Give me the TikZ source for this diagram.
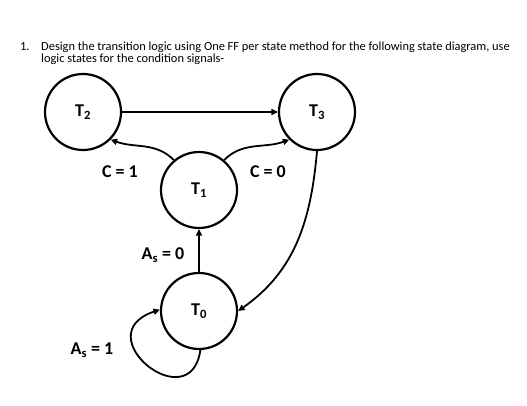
\documentclass[tikz,border=0pt]{standalone}
\usepackage{fontspec}
\setmainfont{Carlito}
\usepackage{xcolor}
\usetikzlibrary{arrows.meta}
\definecolor{ink}{HTML}{000000}
\definecolor{paper}{HTML}{FFFFFF}
\tikzset{
  state/.style={draw=ink, circle, line width=2.2pt, minimum size=76pt, inner sep=0pt, text=ink, font=\bfseries\fontsize{18}{18}\selectfont},
  edge/.style={draw=ink, line width=1.8pt, line cap=round, -{Triangle[length=6.5pt,width=6pt]}},
  lab/.style={text=ink, font=\bfseries\fontsize{18}{18}\selectfont},
  txt/.style={text=ink, anchor=base west, inner sep=0pt, font=\fontsize{12.4}{14}\selectfont},
}

\begin{document}
\begin{tikzpicture}[x=1pt,y=1pt]
  \useasboundingbox[fill=paper] (0,0) rectangle (527,-406);
  % question text
  \node[txt] (num) at (20,-51) {1.};
  \node[txt] (q1) at (41,-51) {Design the transition logic using One FF per state method for the following state diagram, use};
  \node[txt] (q2) at (41,-63) {logic states for the condition signals-};
  % states
  \node[state] (T2) at (83,-112) {T\textsubscript{2}};
  \node[state] (T3) at (317,-112) {T\textsubscript{3}};
  \node[state] (T1) at (199,-190) {T\textsubscript{1}};
  \node[state] (T0) at (199,-311) {T\textsubscript{0}};
  % transitions
  \draw[edge] (T2.east) -- (T3.west);
  \draw[edge] (T1.130) to[out=135,in=-20] (T2.-45);
  \draw[edge] (T1.50) to[out=45,in=200] (T3.225);
  \draw[edge] (T0) -- (T1);
  \draw[edge] (T3.-90) to[out=-95,in=35] (T0.east);
  \draw[edge] (T0.-88) .. controls +(-10,-70) and +(-75,-25) .. (T0.178);
  % conditions
  \node[lab] (c1) at (120,-172) {C = 1};
  \node[lab] (c0) at (268,-172) {C = 0};
  \node[lab] (a0) at (163,-255) {A\textsubscript{s} = 0};
  \node[lab] (a1) at (92,-350) {A\textsubscript{s} = 1};
\end{tikzpicture}
\end{document}
